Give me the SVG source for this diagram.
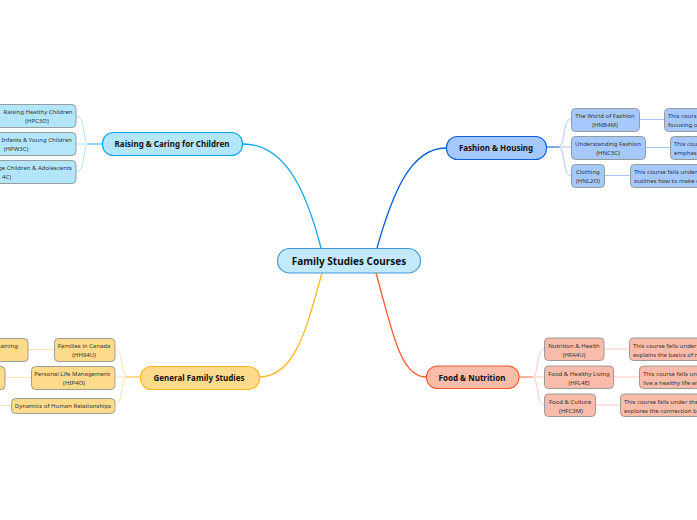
<svg xmlns="http://www.w3.org/2000/svg" width="697" height="520" viewBox="0 0 697 520">
<style>
text{font-family:"Noto Sans","Open Sans","Liberation Sans",sans-serif;fill:#333;font-size:6px;text-anchor:middle}
.t{font-weight:700;font-size:8px;fill:#111}
.c{font-size:10px}
.l{text-anchor:start}.r{text-anchor:end}
.n{stroke-width:.8;stroke:#85888a}
.top{stroke-width:1.100}
.blue{fill:#b3e5fb}.navy{fill:#a6c9fd}.gold{fill:#fedb8b}.red{fill:#fabcaa}
</style>
<rect width="697" height="520" fill="#fff"/>
<g id="connectors" fill="none">
<path d="M321 248C306 190 285 144 243 144" stroke="#0ba5ef" stroke-width="1.300"/>
<path d="M377 248C392 195 410 148 446 148" stroke="#0b60d8" stroke-width="1.300"/>
<path d="M322 273C306 330 295 377 259 377" stroke="#ffb71b" stroke-width="1.300"/>
<path d="M376 273C392 330 400 377 426 377" stroke="#f4592a" stroke-width="1.300"/>
<g stroke="#a8e0fb" stroke-width="1">
<path d="M89 144C82 144 86 116 76 116"/><path d="M89 144H76"/><path d="M89 144C82 144 86 172 76 172"/>
</g>
<path d="M102 144H89" stroke="#4cc0f6" stroke-width="1.300"/>
<g stroke="#a9c8f5" stroke-width="1">
<path d="M558 147C566 147 562 119 571 119"/><path d="M558 147C566 147 562 176 571 176"/><path d="M558 147H571"/>
<path d="M639 119.500H664"/><path d="M645 147.500H670"/><path d="M604 175.500H630"/>
</g>
<path d="M546 147H559" stroke="#2f7ee6" stroke-width="1.300"/>
<g stroke="#fde3ae" stroke-width="1">
<path d="M128 377C120 377 124 349 115 349"/><path d="M128 377H115"/><path d="M128 377C120 377 124 405 115 405"/>
<path d="M54 349.500H28"/><path d="M31 377.500H5"/><path d="M11 405.500H0"/>
</g>
<path d="M140 377H127" stroke="#ffc94f" stroke-width="1.300"/>
<g stroke="#fcc9b9" stroke-width="1">
<path d="M532 377C539 377 536 349 544 349"/><path d="M532 377H544"/><path d="M532 377C539 377 536 405 544 405"/>
<path d="M604 349H629"/><path d="M613 377H639"/><path d="M595 405H620"/>
</g>
<path d="M519 377H532" stroke="#f98a66" stroke-width="1.300"/>
</g>
<g id="central"><rect x="277.500" y="248.500" width="143" height="24.500" rx="12" fill="#c2e9fc" stroke="#3f97d3" stroke-width="1.100"/><text class="t c" x="349" y="264.500">Family Studies Courses</text></g>
<g id="raising"><rect class="blue top" x="102.500" y="132.500" width="140" height="23" rx="11" stroke="#0ba5ef"/><text class="t" x="172" y="147">Raising &amp; Caring for Children</text></g>
<g id="hpc3o"><rect class="blue n" x="-6" y="104.500" width="82" height="23" rx="4"/><text x="38" y="114">Raising Healthy Children</text><text x="37" y="123">(HPC3O)</text></g>
<g id="hpw3c"><rect class="blue n" x="-44" y="132.500" width="120" height="23" rx="4"/><text class="r" x="72" y="142">n Infants &amp; Young Children</text><text x="16" y="151">(HPW3C)</text></g>
<g id="hpd4c"><rect class="blue n" x="-60" y="160.500" width="136" height="23" rx="4"/><text class="r" x="72" y="170">ge Children &amp; Adolescents</text><text class="r" x="11" y="179">4C)</text></g>
<g id="fashion"><rect class="navy top" x="446.500" y="136.500" width="100" height="23" rx="11" stroke="#0b60d8"/><text class="t" x="496" y="151">Fashion &amp; Housing</text></g>
<g id="hnb4m"><rect class="navy n" x="571.500" y="108.500" width="68" height="23" rx="4"/><text x="605" y="118">The World of Fashion</text><text x="605" y="127">(HNB4M)</text></g>
<g id="hnb4m-note"><rect class="navy n" x="664.500" y="108.500" width="60" height="23" rx="4"/><text class="l" x="668" y="118">This cours</text><text class="l" x="668" y="127">focusing o</text></g>
<g id="hnc3c"><rect class="navy n" x="571.500" y="136.500" width="74" height="23" rx="4"/><text x="608" y="146">Understanding Fashion</text><text x="608" y="155">(HNC3C)</text></g>
<g id="hnc3c-note"><rect class="navy n" x="670.500" y="136.500" width="60" height="23" rx="4"/><text class="l" x="674" y="146">This cou</text><text class="l" x="674" y="155">emphas</text></g>
<g id="hnl2o"><rect class="navy n" x="571.500" y="164.500" width="33" height="23" rx="4"/><text class="l" x="576" y="174">Clothing</text><text class="l" x="576" y="183">(HNL2O)</text></g>
<g id="hnl2o-note"><rect class="navy n" x="630.500" y="164.500" width="100" height="23" rx="4"/><text class="l" x="634" y="174">This course falls under</text><text class="l" x="634" y="183">outlines how to make c</text></g>
<g id="general"><rect class="gold top" x="140.500" y="366.500" width="119" height="23" rx="11" stroke="#ffb71b"/><text class="t" x="199" y="381">General Family Studies</text></g>
<g id="hhs4u"><rect class="gold n" x="54.500" y="338.500" width="60.500" height="23" rx="4"/><text x="84" y="348">Families in Canada</text><text x="84" y="357">(HHS4U)</text></g>
<g id="hhs4u-prev"><rect class="gold n" x="-40" y="338.500" width="68" height="23" rx="4"/><text class="r" x="18" y="348">taining</text></g>
<g id="hip4o"><rect class="gold n" x="31.500" y="366.500" width="83.500" height="23" rx="4"/><text x="72" y="376">Personal Life Management</text><text x="74" y="385">(HIP4O)</text></g>
<g id="hip4o-prev"><rect class="gold n" x="-40" y="366.500" width="45" height="23" rx="4"/></g>
<g id="hhg4m"><rect class="gold n" x="11.500" y="398.500" width="103.500" height="15" rx="4"/><text x="63" y="408">Dynamics of Human Relationships</text></g>
<g id="food"><rect class="red top" x="426.500" y="366" width="92.500" height="22.500" rx="11" stroke="#f4592a"/><text class="t" x="472" y="380.500">Food &amp; Nutrition</text></g>
<g id="hfa4u"><rect class="red n" x="544.500" y="338" width="59.500" height="22.500" rx="4"/><text x="574" y="347.500">Nutrition &amp; Health</text><text x="574" y="356.500">(HFA4U)</text></g>
<g id="hfa4u-note"><rect class="red n" x="629.500" y="338" width="100" height="22.500" rx="4"/><text class="l" x="633" y="347.500">This course falls under</text><text class="l" x="633" y="356.500">explains the basics of n</text></g>
<g id="hfl4e"><rect class="red n" x="544.500" y="366" width="69" height="22.500" rx="4"/><text x="579" y="375.500">Food &amp; Healthy Living</text><text x="579" y="384.500">(HFL4E)</text></g>
<g id="hfl4e-note"><rect class="red n" x="639.500" y="366" width="100" height="22.500" rx="4"/><text class="l" x="643" y="375.500">This course falls un</text><text class="l" x="643" y="384.500">live a healthy life wi</text></g>
<g id="hfc3m"><rect class="red n" x="544.500" y="394" width="51" height="22.500" rx="4"/><text x="570" y="403.500">Food &amp; Culture</text><text x="571" y="412.500">(HFC3M)</text></g>
<g id="hfc3m-note"><rect class="red n" x="620.500" y="394" width="100" height="22.500" rx="4"/><text class="l" x="624" y="403.500">This course falls under the</text><text class="l" x="624" y="412.500">explores the connection be</text></g>
</svg>
